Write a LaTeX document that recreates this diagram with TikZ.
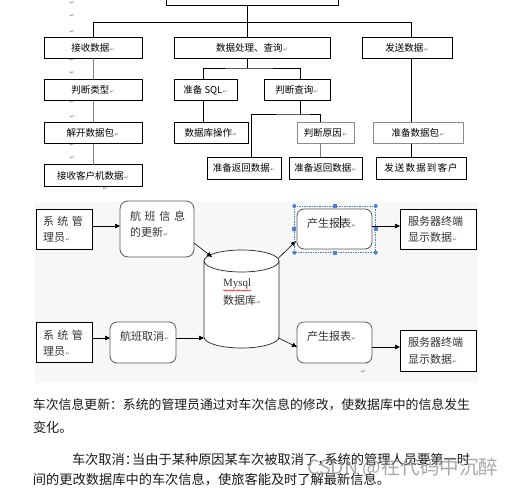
\documentclass[tikz,border=0pt]{standalone}
\usepackage{fontspec}
\setmainfont{Noto Sans CJK SC}
\newfontfamily\symf{DejaVu Sans}
\newfontfamily\serf{Liberation Serif}
\usetikzlibrary{arrows.meta,decorations.pathmorphing}
\definecolor{bgc}{HTML}{F7F7F7}
\definecolor{selc}{HTML}{4F81D0}
\newcommand\retmk{\hspace{0.6pt}{\symf\fontsize{5.5}{5.5}\selectfont\textcolor{black!55}{↵}}}
\newcommand\gp[1]{\hspace{#1pt}}
\newcommand\halfp[1]{\makebox[7.2pt][l]{#1}}
\begin{document}
\begin{tikzpicture}[x=1pt,y=-1pt,
  box/.style={draw=black, line width=0.6pt, inner sep=0pt, outer sep=0pt, fill=white,
    font=\fontsize{9.5}{11}\selectfont},
  gbox/.style={box, draw=black!45},
  ln/.style={draw=black, line width=0.6pt},
  gln/.style={draw=black!50, line width=0.6pt},
  rm/.style={inner sep=0pt, outer sep=0pt},
  sbox/.style={draw=black, line width=0.7pt, inner sep=0pt, outer sep=0pt, fill=white},
  rbox/.style={draw=black!65, line width=0.8pt, rounded corners=8pt, inner sep=0pt, outer sep=0pt, fill=white},
  btxt/.style={inner sep=0pt, outer sep=0pt, anchor=west, align=left, text=black!80,
    font=\fontsize{11}{15.5}\selectfont},
  arr/.style={draw=black, line width=0.6pt, -{Triangle[length=5pt,width=4.5pt]}},
  ptxt/.style={inner sep=0pt, outer sep=0pt, anchor=west, text=black!90,
    font=\fontsize{13.2}{16}\selectfont},
]
\path[use as bounding box, clip] (0,0) rectangle (514,488);
\fill[white] (0,0) rectangle (514,488);

% ---------- free paragraph marks (top) ----------
\node[rm] (m1) at (72,3) {\retmk};
\node[rm] (m2) at (72,16) {\retmk};
\node[rm] (m3) at (72,31.7) {\retmk};
\node[rm] (m4) at (72,60) {\retmk};
\node[rm] (m5) at (72,72.7) {\retmk};
\node[rm] (m6) at (72,102) {\retmk};
\node[rm] (m7) at (72,116.7) {\retmk};
\node[rm] (m8) at (72,145) {\retmk};
\node[rm] (m9) at (72,158) {\retmk};
\node[rm] (m10) at (105,188.5) {\retmk};

% ---------- top tree ----------
\coordinate (xb) at (247,0);
\coordinate (xc) at (203,0);
\coordinate (xd) at (300,0);
\coordinate (xe) at (251,0);
\coordinate (xf) at (320,0);
\coordinate (xg) at (411,0);
\coordinate (j1) at (247,68);
\coordinate (j2) at (300,114);

\node[box, minimum width=172, minimum height=25] (top) at (252,-7.5) {};
\node[box, minimum width=98, minimum height=21] (recv) at (93,47.5) {接收数据\retmk};
\node[box, minimum width=98, minimum height=21.5] (type) at (93,90) {判断类型\retmk};
\node[box, minimum width=98, minimum height=21.5] (unpack) at (93,133) {解开数据包\retmk};
\node[box, minimum width=98, minimum height=21.5] (cli) at (93,175.5) {接收客户机数据\retmk};
\node[box, minimum width=156, minimum height=21] (mid) at (252,47.5) {数据处理、查询\retmk};
\node[box, minimum width=63, minimum height=21.5] (sql) at (205.5,90) {准备 SQL\retmk};
\node[box, minimum width=74, minimum height=21.5] (dbop) at (211,133) {数据库操作\retmk};
\node[box, minimum width=66, minimum height=21.5] (query) at (297,90) {判断查询\retmk};
\node[gbox, minimum width=57, minimum height=21.5] (reason) at (325.5,133) {判断原因\retmk};
\node[box, minimum width=74, minimum height=22] (ret1) at (244,168) {准备返回数据\retmk};
\node[box, minimum width=73, minimum height=22] (ret2) at (325.5,168) {准备返回数据\retmk};
\node[box, minimum width=90, minimum height=21] (send) at (407,47.5) {发送数据\retmk};
\node[gbox, minimum width=90, minimum height=21.5] (pack) at (418,133) {准备数据包\retmk};
\node[box, minimum width=90, minimum height=22] (client) at (421,168) {\addfontfeature{LetterSpace=12}发送数据到客户};

\draw[ln] (top.south -| xb) -- (mid.north -| xb);
\draw[ln] (recv.north) -- ++(0,-15) -| (send.north -| xg);
\draw[gln] (recv.south) -- (type.north);
\draw[gln] (type.south) -- (unpack.north);
\draw[gln] (unpack.south) -- (cli.north);
\draw[ln] (mid.south -| j1) -- (j1);
\draw[ln] (sql.north -| xc) |- (j1) -| (query.north -| xd);
\draw[ln] (sql.south -| xc) -- (dbop.north -| xc);
\draw[ln] (query.south -| j2) -- (j2);
\draw[ln] (ret1.north -| xe) |- (j2) -| (reason.north -| xf);
\draw[gln] (reason.south -| xf) -- (ret2.north -| xf);
\draw[ln] (send.south -| xg) -- (pack.north -| xg);
\draw[ln] (pack.south -| xg) -- (client.north -| xg);

% ---------- bottom flow diagram ----------
\fill[bgc] (35,202) rectangle (478,383);

\node[sbox, minimum width=56, minimum height=40] (admin1) at (64,229) {};
\node[rbox, minimum width=74, minimum height=56] (upd) at (157,229) {};
\node[rbox, minimum width=75, minimum height=40, rounded corners=7pt] (rep1) at (334.5,229) {};
\node[sbox, minimum width=76, minimum height=40] (serv1) at (438,229) {};
\node[sbox, minimum width=56, minimum height=40] (admin2) at (64,342) {};
\node[rbox, minimum width=66, minimum height=41, rounded corners=7pt] (cancel) at (143,342.5) {};
\node[rbox, minimum width=75, minimum height=41, rounded corners=7pt] (rep2) at (334.5,342.5) {};
\node[sbox, minimum width=76, minimum height=41] (serv2) at (438,350.5) {};

% cylinder
\node[inner sep=0pt, outer sep=0pt, minimum width=75, minimum height=98] (cyl) at (241.5,299) {};
\fill[white] (204,261) -- (204,337) arc[start angle=180, end angle=0, x radius=37.5, y radius=11]
  -- (279,261) arc[start angle=0, end angle=-180, x radius=37.5, y radius=11] -- cycle;
\draw[line width=0.7pt, draw=black!85] (204,261) -- (204,337) arc[start angle=180, end angle=0, x radius=37.5, y radius=11] -- (279,261);
\draw[line width=0.7pt, draw=black!85] (241.5,261) ellipse[x radius=37.5, y radius=11];

% texts of the flow diagram
\node[btxt] (tadm1) at (43,229.3) {系\gp{3.5}统\gp{3.5}管\\理员\retmk};
\node[btxt] (tupd) at (130,224.2) {航\gp{3.7}班\gp{3.7}信\gp{3.7}息\\的更新\retmk};
\node[btxt] (trep1) at (307,223) {产生报表\retmk};
\node[btxt] (tserv1) at (408,229.3) {服务器终端\\显示数据\retmk};
\node[btxt, font=\fontsize{11}{16}\selectfont] (tadm2) at (43,343) {系\gp{3.5}统\gp{3.5}管\\理员\retmk};
\node[btxt] (tcan) at (120,336.7) {航班取消\retmk};
\node[btxt] (trep2) at (307,336.7) {产生报表\retmk};
\node[btxt, font=\fontsize{11}{17}\selectfont] (tserv2) at (408,350.4) {服务器终端\\显示数据\retmk};
\node[btxt, font=\serf\fontsize{11}{11}\selectfont] (tmy) at (223,283.5) {Mysql};
\node[btxt] (tdb) at (223,300) {数据库\retmk};
\draw[red, line width=0.5pt, decorate, decoration={snake, amplitude=0.6pt, segment length=2.6pt}] (223,290.5) -- (251,290.5);
\node[rm] (m11) at (363,372) {\retmk};

% arrows
\draw[arr] ([yshift=3]admin1.east) -- ([yshift=3]admin1.east -| upd.west);
\draw[arr] ([yshift=-14]upd.east) -- ([xshift=-29.5,yshift=42]cyl.center);
\draw[arr] ([yshift=4]admin2.east) -- ([yshift=4]admin2.east -| cancel.west);
\draw[arr] ([yshift=4.5]cancel.east) -- ([xshift=-37.5,yshift=4.5]cancel.east -| cyl.center);
\draw[arr] ([xshift=37,yshift=41]cyl.center) -- ([xshift=-1,yshift=-12]rep1.west);
\draw[arr] ([xshift=37,yshift=-39]cyl.center) -- ([yshift=-4.5]rep2.west);
\draw[arr] ([yshift=3]rep1.east) -- ([yshift=3]rep1.east -| serv1.west);
\draw[arr] ([yshift=-4.5]rep2.east) -- ([yshift=-4.5]rep2.east -| serv2.west);

% selection frame on rep1
\draw[selc, line width=0.5pt, dash pattern=on 1.5pt off 1pt] (294.3,206) rectangle (375.7,252.7);
\foreach \px/\py in {294.3/206, 375.7/206, 294.3/252.7, 375.7/252.7}
  \fill[selc] (\px,\py) circle[radius=2];
\foreach \px/\py in {335/206, 294.3/229.3, 375.7/229.3, 335/252.7}
  \fill[selc] (\px-2,\py-2) rectangle (\px+2,\py+2);
\draw[black, line width=0.9pt] (340,215.7) -- (340,228);

% ---------- paragraph text ----------
\node[ptxt] (p1) at (33,405) {\resizebox{437pt}{!}{车次信息更新：系统的管理员通过对车次信息的修改，使数据库中的信息发生}};
\node[ptxt] (p2) at (33,427.7) {\resizebox{39.7pt}{!}{变化。}};
\node[ptxt] (p3) at (72,460) {\resizebox{398pt}{!}{车次取消\halfp{：}当由于某种原因某车次被取消了\halfp{，}系统的管理人员要第一时}};
\node[ptxt] (p4) at (33,479.3) {\resizebox{357pt}{!}{间的更改数据库中的车次信息，使旅客能及时了解最新信息。}};
\node[inner sep=0pt, anchor=west, text=black!45, opacity=0.75, font=\fontsize{22}{24}\selectfont] (wm) at (307,468.3) {\resizebox{191pt}{!}{CSDN @在代码中沉醉}};
\end{tikzpicture}
\end{document}
